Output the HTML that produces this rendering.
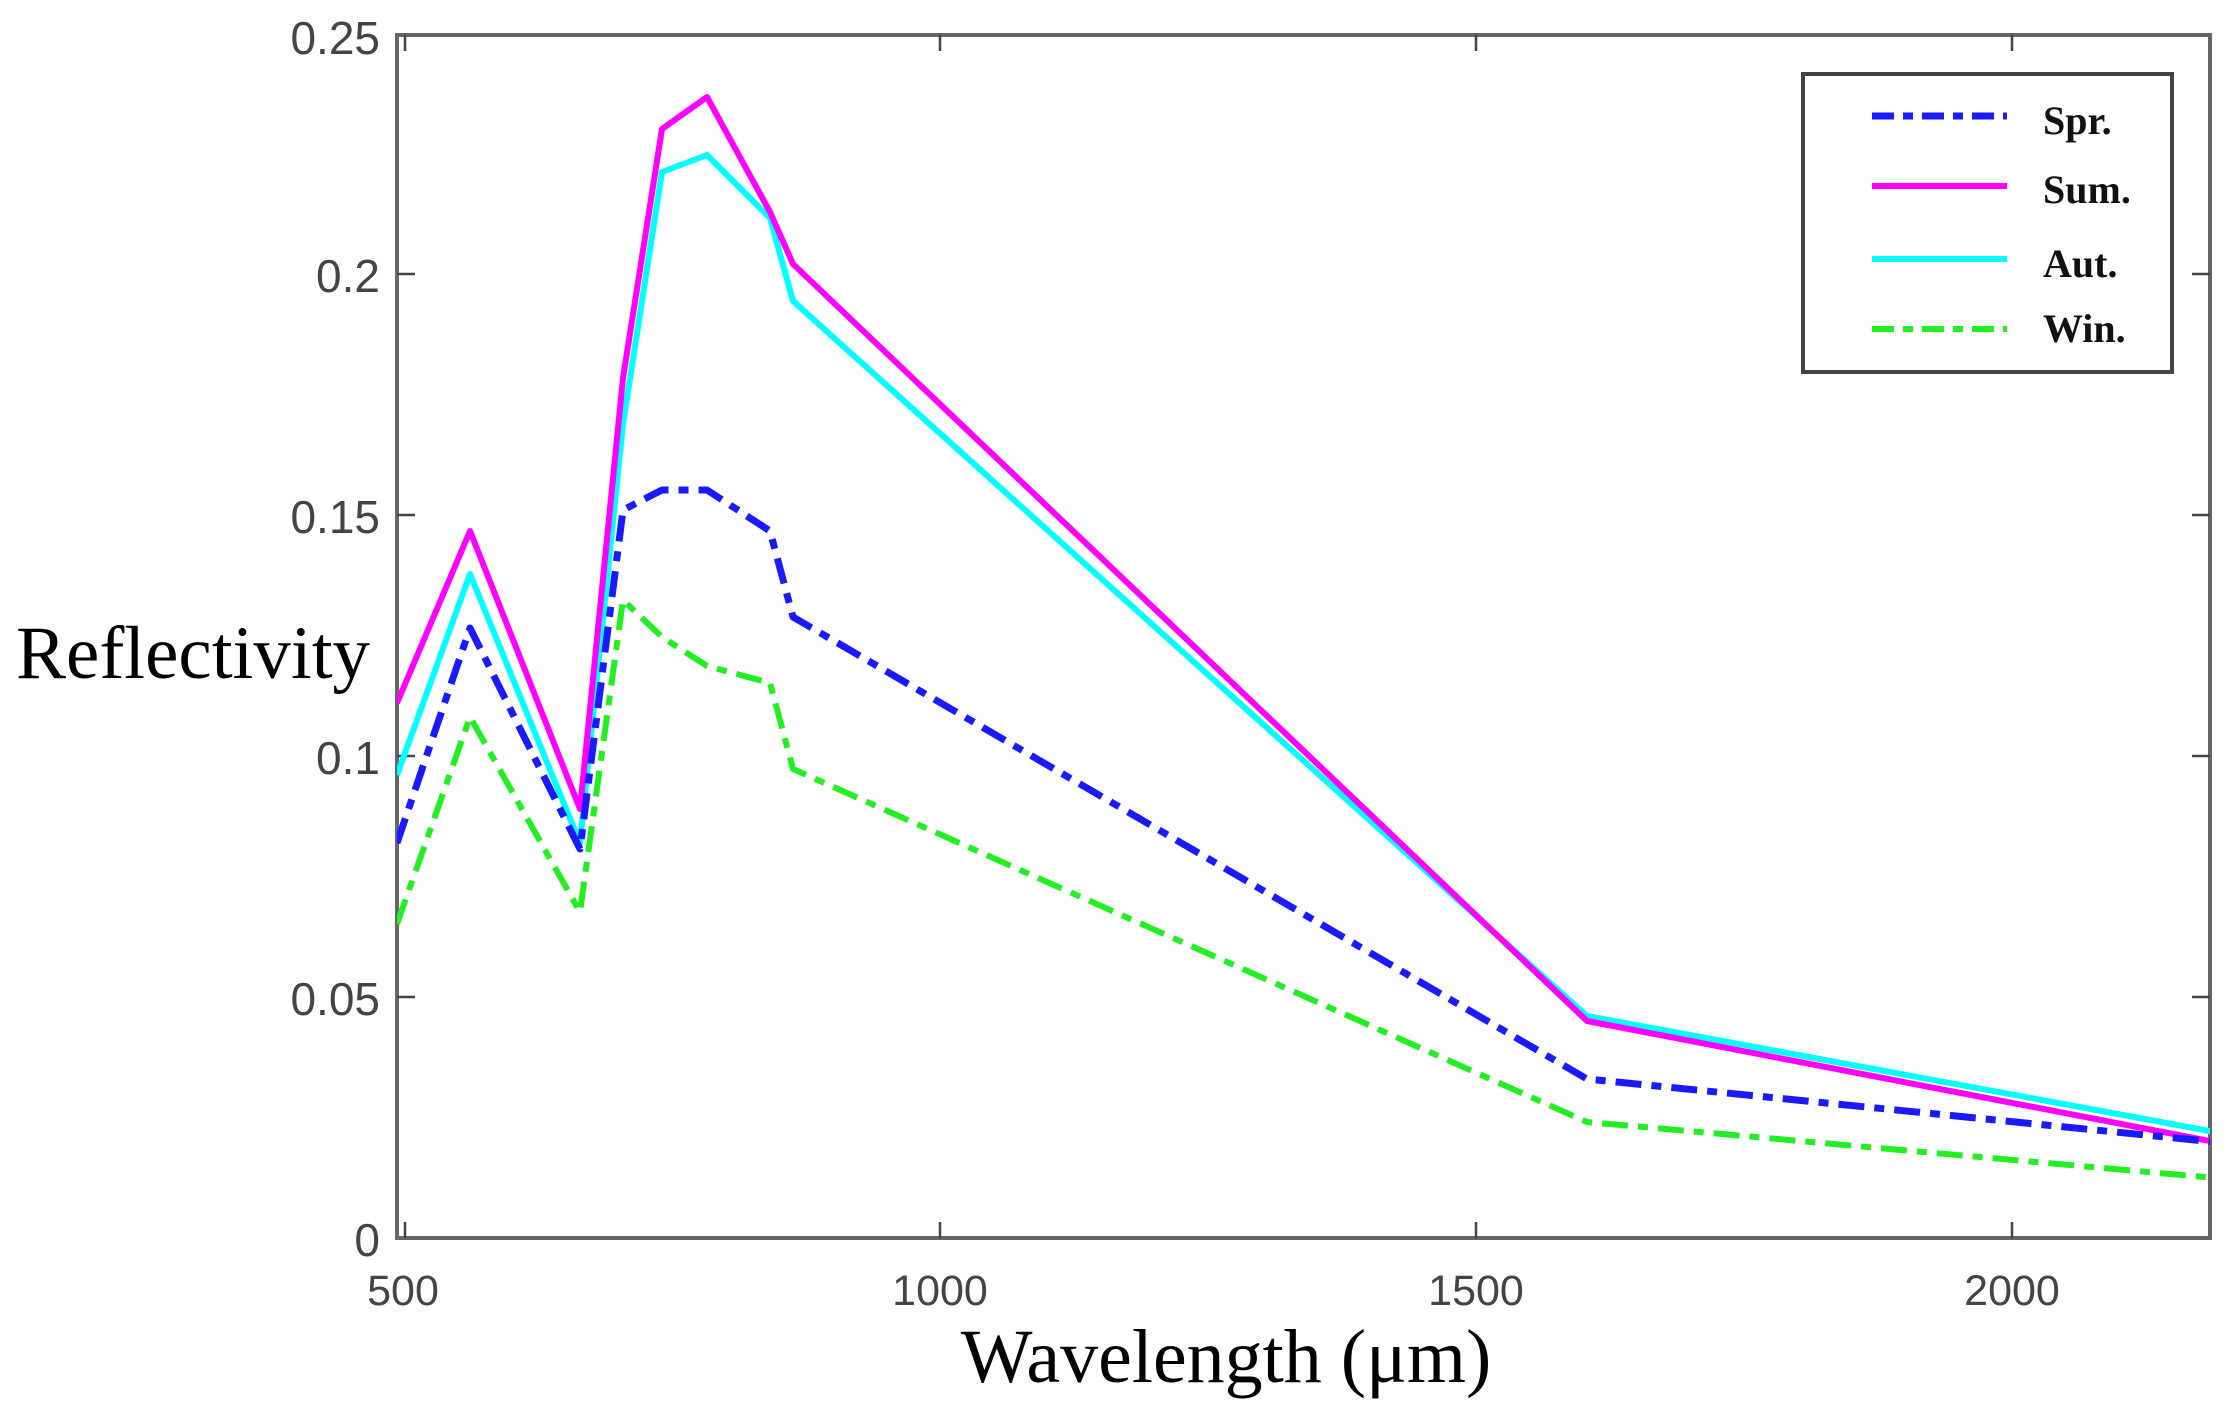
<!DOCTYPE html>
<html><head><meta charset="utf-8"><style>
html,body{margin:0;padding:0;background:#fff;}
</style></head><body>
<svg width="2229" height="1407" viewBox="0 0 2229 1407" xmlns="http://www.w3.org/2000/svg">
<defs><clipPath id="c"><rect x="397" y="35" width="1813" height="1205"/></clipPath></defs>
<rect width="2229" height="1407" fill="#fff"/>
<g stroke="#666" stroke-width="4" fill="none">
<path d="M397 35 H2210 V1238 H397 Z"/>
</g>
<g stroke="#444" stroke-width="2.5">
<line x1="405" y1="1238" x2="405" y2="1222"/><line x1="940" y1="1238" x2="940" y2="1222"/><line x1="1476" y1="1238" x2="1476" y2="1222"/><line x1="2012" y1="1238" x2="2012" y2="1222"/>
<line x1="405" y1="35" x2="405" y2="51"/><line x1="940" y1="35" x2="940" y2="51"/><line x1="1476" y1="35" x2="1476" y2="51"/><line x1="2012" y1="35" x2="2012" y2="51"/>
<line x1="397" y1="997" x2="415" y2="997"/><line x1="397" y1="756" x2="415" y2="756"/><line x1="397" y1="515" x2="415" y2="515"/><line x1="397" y1="274" x2="415" y2="274"/>
<line x1="2210" y1="997" x2="2192" y2="997"/><line x1="2210" y1="756" x2="2192" y2="756"/><line x1="2210" y1="515" x2="2192" y2="515"/><line x1="2210" y1="274" x2="2192" y2="274"/>
</g>
<g font-family="Liberation Sans, sans-serif" font-size="46" fill="#444" text-anchor="end">
<text x="380" y="1256">0</text><text x="380" y="1015">0.05</text><text x="380" y="774">0.1</text><text x="380" y="533">0.15</text><text x="380" y="292">0.2</text><text x="380" y="54">0.25</text>
</g>
<g font-family="Liberation Sans, sans-serif" font-size="43" fill="#444" text-anchor="middle">
<text x="403" y="1305">500</text><text x="940" y="1305">1000</text><text x="1476" y="1305">1500</text><text x="2012" y="1305">2000</text>
</g>
<text x="16" y="678" font-family="Liberation Serif, serif" font-size="75" fill="#000">Reflectivity</text>
<text x="1226" y="1382" font-family="Liberation Serif, serif" font-size="76" fill="#000" text-anchor="middle">Wavelength (μm)</text>
<g clip-path="url(#c)" fill="none" stroke-linejoin="round">
<polyline stroke="#00ffff" stroke-width="6" points="397,775 470,574 580,843 623,424 662,172 707,155 770,218 793,301 1587,1016 2215,1132"/>
<polyline stroke="#ff00ff" stroke-width="6" points="397,703 470,531 580,809 623,378 662,129 707,97 770,212 793,264 1587,1021 2215,1142"/>
<polyline stroke="#1a1aff" stroke-width="7" stroke-dasharray="26,10,10,10" points="397,843 470,628 580,849 623,510 662,490 707,490 770,531 793,617 1587,1079 2215,1142"/>
<polyline stroke="#22ee22" stroke-width="6" stroke-dasharray="26,10,10,10" points="397,924 470,717 580,912 623,600 662,637 707,666 770,683 793,769 1587,1122 2215,1178"/>
</g>
<rect x="1803" y="74" width="369" height="298" fill="#fff" stroke="#444" stroke-width="4"/>
<line x1="1872" y1="116" x2="2007" y2="116" stroke="#1a1aff" stroke-width="7" stroke-dasharray="22,9,10,9"/>
<line x1="1872" y1="186" x2="2007" y2="186" stroke="#ff00ff" stroke-width="6"/>
<line x1="1872" y1="259" x2="2007" y2="259" stroke="#00ffff" stroke-width="6"/>
<line x1="1872" y1="329" x2="2007" y2="329" stroke="#22ee22" stroke-width="6" stroke-dasharray="22,9,10,9"/>
<g font-family="Liberation Serif, serif" font-size="40" font-weight="bold" fill="#111">
<text x="2043" y="134">Spr.</text><text x="2043" y="203">Sum.</text><text x="2043" y="277">Aut.</text><text x="2043" y="342">Win.</text>
</g>
</svg>
</body></html>
